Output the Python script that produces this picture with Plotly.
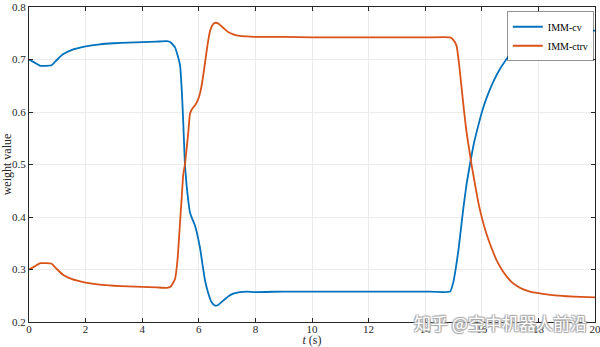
import plotly.graph_objects as go

# IMM-cv model probability
t_cv = [0, 0.2, 0.4, 0.6, 0.8, 1.0, 1.2, 1.5, 2.0, 2.5, 3.0, 3.5, 4.0, 4.5, 4.87, 5.0, 5.16, 5.25, 5.34, 5.4, 5.45, 5.51,
        5.57, 5.63, 5.69, 5.78, 5.87, 6.04, 6.13, 6.22, 6.35, 6.45, 6.55, 6.61, 6.7, 6.87, 7.05, 7.22, 7.45, 7.69, 8.0,
        9.0, 10.0, 11.0, 12.0, 13.0, 14.0, 14.88, 14.99, 15.08, 15.17, 15.26, 15.35, 15.46, 15.58, 15.72, 15.88, 16.02,
        16.17, 16.4, 16.64, 16.9, 17.11, 17.35, 17.59, 17.8, 18.06, 18.5, 19.0, 19.5, 20.0]
w_cv = [0.700, 0.694, 0.688, 0.688, 0.689, 0.700, 0.710, 0.718, 0.725, 0.729, 0.731, 0.732, 0.733, 0.734, 0.735, 0.733,
        0.723, 0.708, 0.688, 0.64, 0.581, 0.5, 0.46, 0.430, 0.408, 0.395, 0.383, 0.342, 0.31, 0.279, 0.252, 0.238, 0.232,
        0.231, 0.233, 0.241, 0.249, 0.254, 0.257, 0.258, 0.257, 0.258, 0.258, 0.258, 0.258, 0.258, 0.258, 0.258, 0.275,
        0.302, 0.335, 0.376, 0.418, 0.462, 0.500, 0.540, 0.575, 0.603, 0.627, 0.657, 0.682, 0.703, 0.719, 0.731, 0.740,
        0.745, 0.748, 0.752, 0.754, 0.755, 0.755]

# IMM-ctrv model probability
t_ctrv = [0, 0.2, 0.4, 0.6, 0.8, 1.0, 1.2, 1.5, 2.0, 2.5, 3.0, 3.5, 4.0, 4.5, 4.87, 5.0, 5.16, 5.25, 5.34, 5.4, 5.45,
          5.51, 5.57, 5.63, 5.69, 5.78, 5.87, 5.96, 6.04, 6.13, 6.22, 6.3, 6.4, 6.5, 6.6, 6.7, 6.87, 7.05, 7.22, 7.45,
          7.69, 8.0, 9.0, 10.0, 11.0, 12.0, 13.0, 14.0, 14.88, 15.0, 15.11, 15.2, 15.29, 15.37, 15.46, 15.55, 15.64,
          15.76, 15.88, 16.02, 16.17, 16.35, 16.53, 16.75, 17.0, 17.23, 17.47, 17.7, 18.0, 18.5, 19.0, 19.5, 20.0]
w_ctrv = [0.300, 0.306, 0.312, 0.312, 0.311, 0.300, 0.290, 0.282, 0.275, 0.271, 0.269, 0.268, 0.267, 0.266, 0.265,
          0.267, 0.282, 0.32, 0.392, 0.44, 0.481, 0.5, 0.53, 0.562, 0.597, 0.607, 0.613, 0.622, 0.635, 0.66, 0.694,
          0.725, 0.755, 0.767, 0.770, 0.768, 0.760, 0.752, 0.748, 0.745, 0.744, 0.743, 0.743, 0.742, 0.742, 0.742,
          0.742, 0.742, 0.742, 0.737, 0.726, 0.69, 0.644, 0.603, 0.562, 0.530, 0.499, 0.462, 0.427, 0.395, 0.367,
          0.340, 0.317, 0.296, 0.279, 0.269, 0.262, 0.258, 0.255, 0.251, 0.249, 0.248, 0.247]

x_ticks = [0, 2, 4, 6, 8, 10, 12, 14, 16, 18, 20]
y_ticks = [0.2, 0.3, 0.4, 0.5, 0.6, 0.7, 0.8]

serif = "Liberation Serif"

fig = go.Figure()
fig.add_trace(go.Scatter(x=t_cv, y=w_cv, mode="lines", name="IMM-cv",
                         line=dict(color="#0072BD", width=1.8, shape="spline", smoothing=0.4)))
fig.add_trace(go.Scatter(x=t_ctrv, y=w_ctrv, mode="lines", name="IMM-ctrv",
                         line=dict(color="#D95319", width=1.8, shape="spline", smoothing=0.4)))

axis_common = dict(showline=True, linecolor="#262626", linewidth=1, mirror="ticks",
                   ticks="inside", ticklen=4, tickcolor="#262626", automargin=False,
                   ticklabeloverflow="allow",
                   showgrid=True, gridcolor="#ececec", gridwidth=1, zeroline=False,
                   tickfont=dict(family=serif, size=11, color="#262626"))

fig.update_xaxes(range=[0, 20], tickvals=x_ticks, ticktext=[str(v) for v in x_ticks],
                 ticklabelstandoff=-3,
                 title=dict(text="<i>t</i> (s)", font=dict(family=serif, size=12, color="#262626"), standoff=1),
                 **axis_common)
fig.update_yaxes(range=[0.2, 0.8], tickvals=y_ticks, ticktext=[f"{v:.1f}" for v in y_ticks],
                 title=dict(text="weight value", font=dict(family=serif, size=12, color="#262626"), standoff=2),
                 **axis_common)

fig.update_layout(
    width=600, height=347,
    margin=dict(l=29, r=5, t=7, b=25),
    plot_bgcolor="white", paper_bgcolor="white",
    showlegend=True,
    legend=dict(x=0.997, y=0.985, xanchor="right", yanchor="top",
                bgcolor="white", bordercolor="#262626", borderwidth=0.5,
                font=dict(family=serif, size=10, color="#000000"),
                tracegroupgap=0, itemwidth=30, entrywidth=0),
    annotations=[dict(text="知乎 @空中机器人前沿", x=0.99, y=0.045, xref="paper", yref="paper",
                      xanchor="right", yanchor="top", showarrow=False,
                      font=dict(family="Noto Sans CJK SC", size=17, color="white",
                                shadow="1px 1px 1px #aaa, -1px -1px 1px #aaa, 1px -1px 1px #aaa, -1px 1px 1px #aaa"))],
)

fig.write_html("out.html")
